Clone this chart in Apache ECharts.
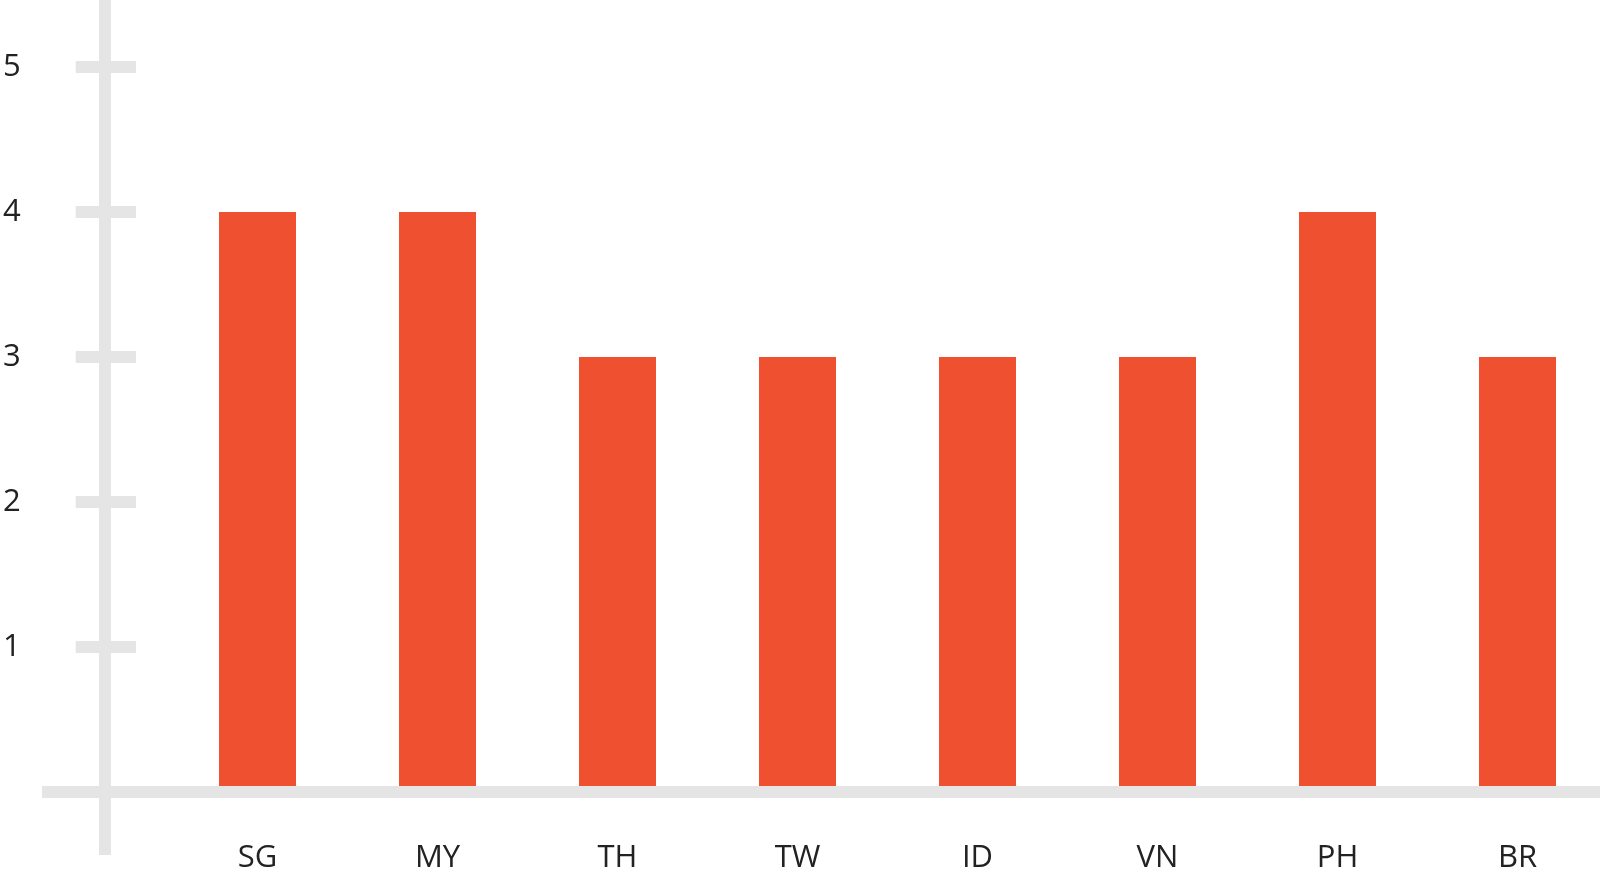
<!DOCTYPE html>
<html>
<head>
<meta charset="utf-8">
<script src="https://cdn.jsdelivr.net/npm/echarts@6/dist/echarts.min.js"></script>
<style>
  html, body { margin: 0; padding: 0; background: #fff; }
  #chartContainer { width: 1600px; height: 878px; }
</style>
</head>
<body>
<div id="chartContainer"></div>
<script>
var categories = ['SG', 'MY', 'TH', 'TW', 'ID', 'VN', 'PH', 'BR'];
var scores = [4, 4, 3, 3, 3, 3, 4, 3];
var scoreMax = 5;

var axisGray = '#e5e5e5';
var barColor = '#ef5030';
var textColor = '#222222';

var chart = echarts.init(document.getElementById('chartContainer'));

chart.setOption({
  animation: false,
  grid: [
    // bars: first and last category sit on the grid edges
    { left: 257.5, right: 82.5, top: 67, bottom: 86 },
    // tick marks + labels
    { left: 72, width: 64, top: 67, bottom: 86 },
    // long vertical line
    { left: 105, right: 0, top: 0, bottom: 23 },
    // long horizontal line
    { left: 42, right: 0, top: 0, bottom: 86 }
  ],
  xAxis: [{
    gridIndex: 0,
    type: 'category',
    boundaryGap: false,
    data: categories,
    axisLine: { show: false },
    axisTick: { show: false },
    axisLabel: {
      margin: 51,
      color: textColor,
      fontFamily: 'Open Sans',
      fontSize: 31
    }
  }, {
    gridIndex: 1,
    type: 'value',
    show: false
  }, {
    gridIndex: 2,
    type: 'value',
    show: false
  }, {
    gridIndex: 3,
    type: 'value',
    z: 5,
    axisLine: { show: true, lineStyle: { color: axisGray, width: 12, cap: 'butt' } },
    axisTick: { show: false },
    axisLabel: { show: false },
    splitLine: { show: false }
  }],
  yAxis: [{
    gridIndex: 0,
    type: 'value',
    min: 0,
    max: scoreMax,
    interval: 1,
    show: false
  }, {
    gridIndex: 1,
    type: 'value',
    min: 0,
    max: scoreMax,
    interval: 1,
    axisLine: { show: false },
    axisTick: { show: false },
    axisLabel: {
      margin: 55,
      color: textColor,
      fontFamily: 'Open Sans',
      fontSize: 31,
      padding: [4, 0, 0, 0],
      formatter: function (v) { return v === 0 ? '' : v; }
    },
    splitLine: { show: true, lineStyle: { color: axisGray, width: 12, cap: 'butt' } }
  }, {
    gridIndex: 2,
    type: 'value',
    axisLine: { show: true, lineStyle: { color: axisGray, width: 12, cap: 'butt' } },
    axisTick: { show: false },
    axisLabel: { show: false },
    splitLine: { show: false }
  }, {
    gridIndex: 3,
    type: 'value',
    show: false
  }],
  series: [{
    name: 'Score',
    type: 'bar',
    xAxisIndex: 0,
    yAxisIndex: 0,
    barWidth: 77,
    itemStyle: { color: barColor },
    data: scores
  }]
});

window.addEventListener('resize', function () {
  chart.resize();
});
</script>
</body>
</html>
